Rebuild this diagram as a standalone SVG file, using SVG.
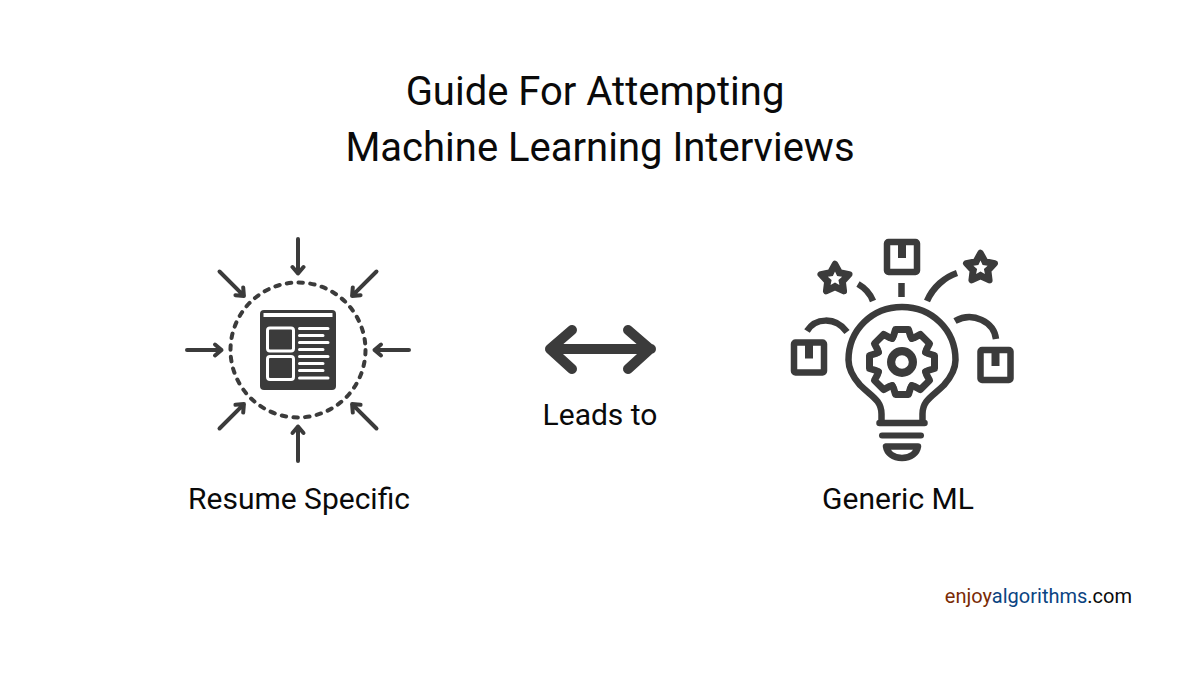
<svg xmlns="http://www.w3.org/2000/svg" xmlns:xlink="http://www.w3.org/1999/xlink" width="1200" height="675" viewBox="0 0 1200 675">
<style>
text{font-family:Roboto,"Liberation Sans",sans-serif;fill:#0a0a0a}
.t{font-size:40px}
.l{font-size:30px}
.c{font-size:20px}
.s{fill:none;stroke:#3b3b3b;stroke-linecap:round;stroke-linejoin:round}
.a{stroke-width:4}
.b{stroke-width:6.500;stroke-linecap:butt}
.w{fill:none;stroke:#fff;stroke-width:3;stroke-linecap:round;stroke-linejoin:round}
</style>
<defs>
<path id="arr" class="s a" d="M0,-111V-76.500M-5.500,-83L0,-76.500L5.500,-83"/>
<path id="tooth" class="s" style="stroke-width:7" d="M-9.800,-23.700L-8.500,-26L-6.500,-32.500H6.500L8.500,-26L9.800,-23.700"/>
<g id="box"><rect x="-15" y="-15" width="30" height="30" rx="1.500" class="s" style="stroke-width:6.500"/><rect x="-4" y="-15" width="8" height="16" fill="#3b3b3b"/></g>
<g id="star"><path d="M0,-15L4.700,-6.470L14.270,-4.640L7.610,2.470L8.820,12.140L0,8L-8.820,12.140L-7.610,2.470L-14.270,-4.640L-4.700,-6.470Z" fill="#3b3b3b" stroke="#3b3b3b" stroke-width="6.500" stroke-linejoin="round"/><path d="M0,-7.500L2.120,-2.910L7.130,-2.320L3.420,1.110L4.410,6.070L0,3.600L-4.410,6.070L-3.420,1.110L-7.130,-2.320L-2.120,-2.910Z" fill="#fff"/></g>
</defs>
<rect width="1200" height="675" fill="#fff"/>
<g id="title">
<text class="t" x="595" y="105" text-anchor="middle">Guide For Attempting</text>
<text class="t" x="600" y="161" text-anchor="middle">Machine Learning Interviews</text>
</g>
<g id="resume-specific">
<circle cx="298" cy="350" r="67.500" fill="none" stroke="#3b3b3b" stroke-width="4" stroke-linecap="round" stroke-dasharray="4.500 7.280"/>
<g transform="translate(298 350)">
<use xlink:href="#arr" href="#arr"/>
<use xlink:href="#arr" href="#arr" transform="rotate(45)"/>
<use xlink:href="#arr" href="#arr" transform="rotate(90)"/>
<use xlink:href="#arr" href="#arr" transform="rotate(135)"/>
<use xlink:href="#arr" href="#arr" transform="rotate(180)"/>
<use xlink:href="#arr" href="#arr" transform="rotate(225)"/>
<use xlink:href="#arr" href="#arr" transform="rotate(270)"/>
<use xlink:href="#arr" href="#arr" transform="rotate(315)"/>
</g>
<rect x="260" y="310" width="76" height="80" rx="4" fill="#3b3b3b"/>
<rect x="263.500" y="313" width="69" height="4" fill="#fff"/>
<rect x="267.500" y="328" width="26" height="23" rx="2.500" class="w"/>
<rect x="267.500" y="356.500" width="26" height="23" rx="2.500" class="w"/>
<path class="w" d="M299.500,328.500H328M299.500,335.500H323M299.500,342.500H328M299.500,349.500H323M299.500,356.500H328M299.500,363.500H323M299.500,370.500H323M299.500,378H328"/>
<text class="l" x="299" y="509" text-anchor="middle">Resume Specific</text>
</g>
<g id="leads-to">
<path class="s" style="stroke-width:10" d="M550,349H651M572,330L550,349L572,369M628,330L650,349L628,369"/>
<text class="l" x="600" y="425" text-anchor="middle">Leads to</text>
</g>
<g id="generic-ml">
<path class="s b" d="M881.500,421V414C881.500,400 871,396 860,385C852,376 848.500,368 848.500,360C848.500,330 872,307 902,307C932,307 955.500,330 955.500,360C955.500,368 952,376 944,385C933,396 922.500,400 922.500,414V421"/>
<path class="s" style="stroke-width:6.500" d="M879.500,423H924.500"/>
<path class="s" style="stroke-width:6" d="M882,435.500H921"/>
<path class="s b" style="stroke-linecap:round" d="M886,446.500H918C917,453 911,458 902,458C893,458 887,453 886,446.500Z"/>
<g transform="translate(902 362)">
<use xlink:href="#tooth" href="#tooth"/>
<use xlink:href="#tooth" href="#tooth" transform="rotate(45)"/>
<use xlink:href="#tooth" href="#tooth" transform="rotate(90)"/>
<use xlink:href="#tooth" href="#tooth" transform="rotate(135)"/>
<use xlink:href="#tooth" href="#tooth" transform="rotate(180)"/>
<use xlink:href="#tooth" href="#tooth" transform="rotate(225)"/>
<use xlink:href="#tooth" href="#tooth" transform="rotate(270)"/>
<use xlink:href="#tooth" href="#tooth" transform="rotate(315)"/>
<circle r="10.900" fill="none" stroke="#3b3b3b" stroke-width="8.200"/>
</g>
<use xlink:href="#box" href="#box" transform="translate(902 257)"/>
<use xlink:href="#box" href="#box" transform="translate(809 357.500)"/>
<use xlink:href="#box" href="#box" transform="translate(995.500 365)"/>
<use xlink:href="#star" href="#star" transform="translate(835 279)"/>
<use xlink:href="#star" href="#star" transform="translate(980.500 268)"/>
<path class="s b" d="M901.500,283V297"/>
<path class="s b" d="M858,284C865,288 870,293 873,301"/>
<path class="s b" d="M927,301C933,287 945,277 957,273"/>
<path class="s b" d="M807,331C815,318 835,316 847,332"/>
<path class="s b" d="M955,321C973,311 994,322 996,339"/>
<text class="l" x="898" y="509" text-anchor="middle">Generic ML</text>
</g>
<g id="credit">
<text class="c" x="1132" y="603" text-anchor="end"><tspan style="fill:#7a2b05">enjoy</tspan><tspan style="fill:#0b4482">algorithms</tspan>.com</text>
</g>
</svg>
